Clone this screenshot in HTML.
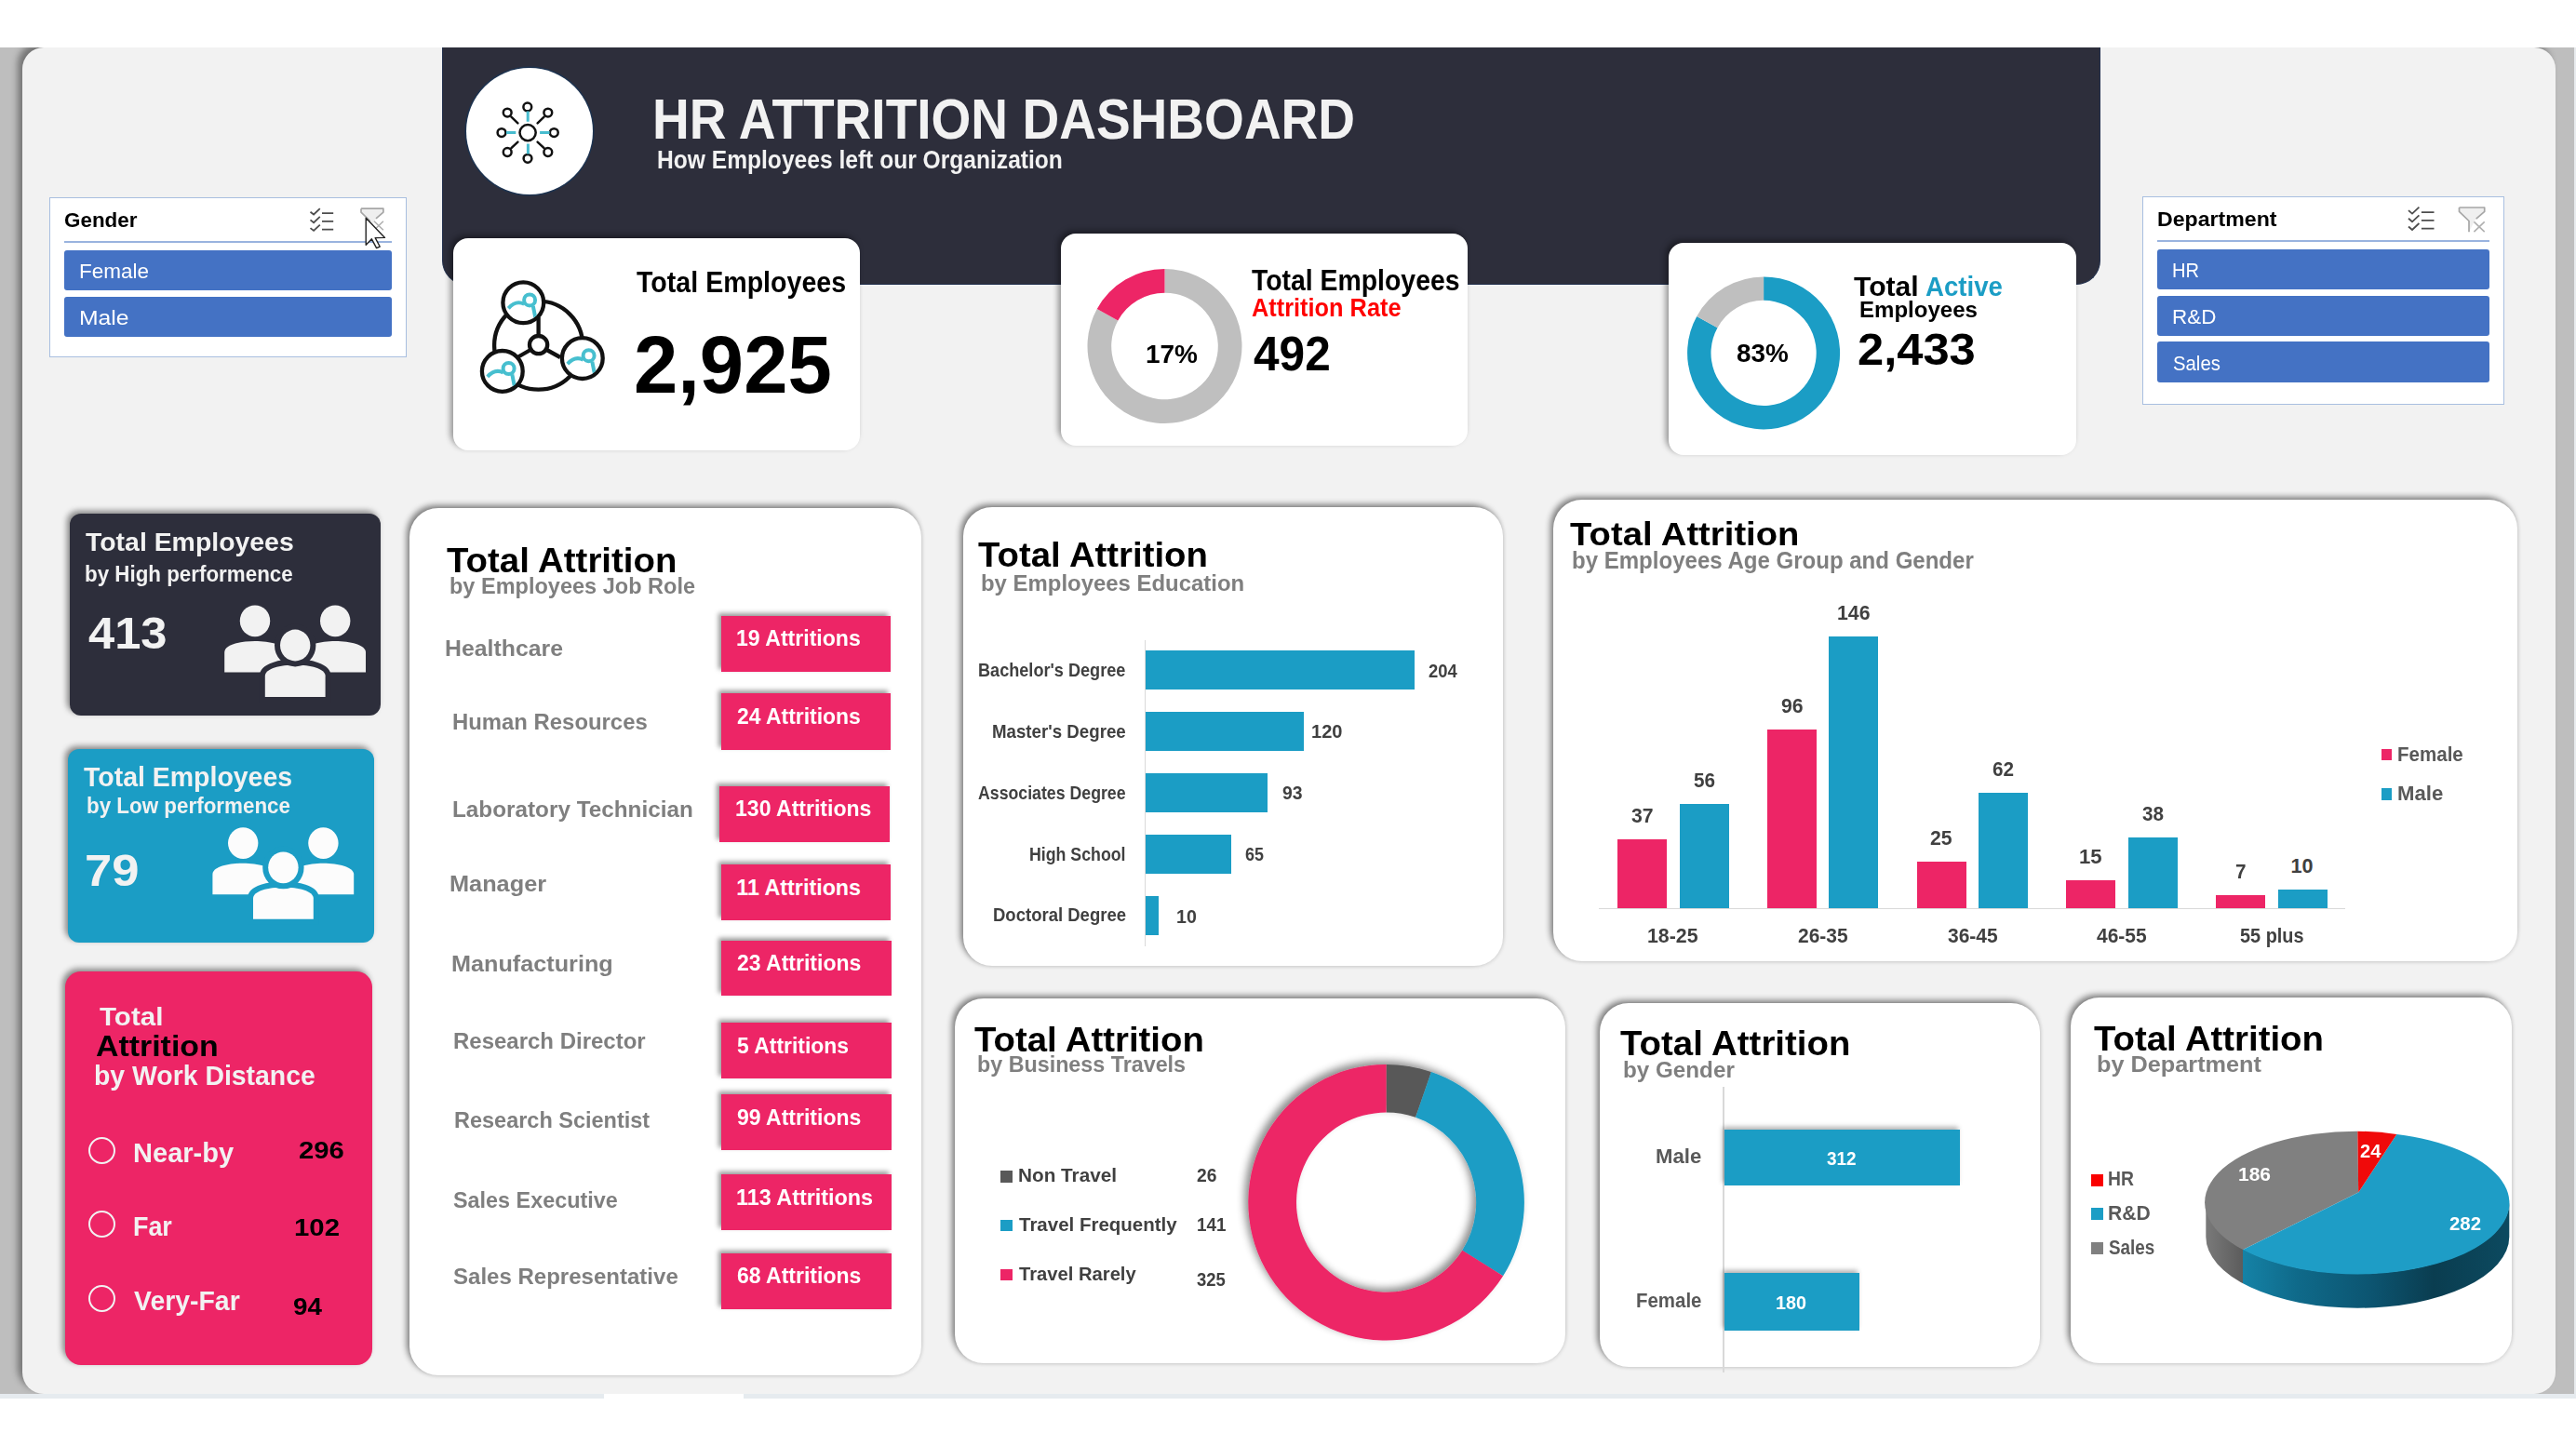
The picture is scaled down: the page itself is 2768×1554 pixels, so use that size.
<!DOCTYPE html><html><head><meta charset="utf-8"><style>
*{margin:0;padding:0}
html,body{width:2768px;height:1554px;overflow:hidden;background:#fff;position:relative;font-family:"Liberation Sans",sans-serif}
.t{position:absolute;white-space:nowrap;line-height:1;transform-origin:0 0}
</style></head><body>
<div style="position:absolute;left:0;top:51px;width:2768px;height:1446.5px;overflow:hidden;background:#bebebe"><div style="position:absolute;left:2766px;top:0;width:2px;height:100%;background:#e8ebee"></div><div style="position:absolute;left:24px;top:0;width:2722.2px;height:1446.5px;background:#f2f2f2;border-radius:23px;box-shadow:-5px -5px 7px rgba(0,0,0,0.38)"></div></div>
<div style="position:absolute;left:0.0px;top:1497.5px;width:648.5px;height:5.2px;background:#e6ebef;"></div>
<div style="position:absolute;left:798.7px;top:1497.5px;width:1969.3px;height:5.2px;background:#e6ebef;"></div>
<div style="position:absolute;left:474.5px;top:51.0px;width:1780.5px;height:254.0px;background:#2d2e3b;border-radius:0 0 26px 26px;border:1px solid #22304d;border-top:none;"></div>
<div style="position:absolute;left:501px;top:73px;width:136px;height:136px;border-radius:50%;background:#fff;box-shadow:0 0 0 1.5px #1d3350;"></div>
<div class="t" style="left:701.2px;top:98.0px;font-size:60.43px;font-weight:bold;color:#f2f2f2;transform:scaleX(0.9108);">HR ATTRITION DASHBOARD</div>
<div class="t" style="left:705.9px;top:158.0px;font-size:28.06px;font-weight:bold;color:#f2f2f2;transform:scaleX(0.8768);">How Employees left our Organization</div>
<div style="position:absolute;left:53.0px;top:212.0px;width:383.5px;height:172.0px;background:#fff;border:1.5px solid #a9bfe0;box-sizing:border-box;"></div>
<div class="t" style="left:69.2px;top:226.1px;font-size:22.3px;font-weight:bold;color:#000;transform:scaleX(1.0053);">Gender</div>
<div style="position:absolute;left:69.0px;top:259.4px;width:351.5px;height:1.4px;background:#9ab3df;"></div>
<div style="position:absolute;left:69.0px;top:269.0px;width:351.5px;height:43.0px;background:#4472c4;border-radius:3px;"></div>
<div class="t" style="left:84.9px;top:281.1px;font-size:21.15px;font-weight:normal;color:#fff;transform:scaleX(1.0650);">Female</div>
<div style="position:absolute;left:69.0px;top:318.6px;width:351.5px;height:43.4px;background:#4472c4;border-radius:3px;"></div>
<div class="t" style="left:84.8px;top:330.7px;font-size:21.15px;font-weight:normal;color:#fff;transform:scaleX(1.1687);">Male</div>
<div style="position:absolute;left:2301.6px;top:211.0px;width:389.4px;height:224.0px;background:#fff;border:1.5px solid #a9bfe0;box-sizing:border-box;"></div>
<div class="t" style="left:2317.5px;top:225.1px;font-size:22.3px;font-weight:bold;color:#000;transform:scaleX(1.0367);">Department</div>
<div style="position:absolute;left:2317.6px;top:258.4px;width:357.4px;height:1.4px;background:#9ab3df;"></div>
<div style="position:absolute;left:2317.6px;top:268.0px;width:357.4px;height:43.0px;background:#4472c4;border-radius:3px;"></div>
<div class="t" style="left:2333.7px;top:280.1px;font-size:21.15px;font-weight:normal;color:#fff;transform:scaleX(0.9499);">HR</div>
<div style="position:absolute;left:2317.6px;top:317.5px;width:357.4px;height:43.1px;background:#4472c4;border-radius:3px;"></div>
<div class="t" style="left:2333.5px;top:329.6px;font-size:21.15px;font-weight:normal;color:#fff;transform:scaleX(1.0607);">R&D</div>
<div style="position:absolute;left:2317.6px;top:367.4px;width:357.4px;height:43.3px;background:#4472c4;border-radius:3px;"></div>
<div class="t" style="left:2334.6px;top:379.5px;font-size:21.15px;font-weight:normal;color:#fff;transform:scaleX(0.9615);">Sales</div>
<div style="position:absolute;left:486.7px;top:256.0px;width:437.3px;height:228.3px;background:#fff;border-radius:16px;box-shadow:-3px -3px 6px rgba(0,0,0,0.4);"></div>
<div class="t" style="left:684.0px;top:288.2px;font-size:31.65px;font-weight:bold;color:#000;transform:scaleX(0.9038);">Total Employees</div>
<div class="t" style="left:681.1px;top:348.7px;font-size:87.77px;font-weight:bold;color:#000;transform:scaleX(0.9683);">2,925</div>
<div style="position:absolute;left:1139.6px;top:251.0px;width:437.9px;height:228.2px;background:#fff;border-radius:16px;box-shadow:-3px -3px 6px rgba(0,0,0,0.4);"></div>
<div class="t" style="left:1344.6px;top:286.8px;font-size:30.94px;font-weight:bold;color:#000;transform:scaleX(0.9177);">Total Employees</div>
<div class="t" style="left:1344.6px;top:317.7px;font-size:26.76px;font-weight:bold;color:#ff0000;transform:scaleX(0.9476);">Attrition Rate</div>
<div class="t" style="left:1347.0px;top:354.8px;font-size:51.8px;font-weight:bold;color:#000;transform:scaleX(0.9573);">492</div>
<svg style="position:absolute;left:0;top:0;overflow:visible" width="2768" height="1554" ><path d="M1251.50,289.00 A83,83 0 1 1 1178.77,332.01 L1201.29,344.40 A57.3,57.3 0 1 0 1251.50,314.70 Z" fill="#bfbfbf" /><path d="M1178.77,332.01 A83,83 0 0 1 1251.50,289.00 L1251.50,314.70 A57.3,57.3 0 0 0 1201.29,344.40 Z" fill="#ed2566" /></svg>
<div class="t" style="left:1231.0px;top:366.4px;font-size:28.35px;font-weight:bold;color:#000;transform:scaleX(0.9869);">17%</div>
<div style="position:absolute;left:1792.7px;top:260.7px;width:437.9px;height:228.8px;background:#fff;border-radius:16px;box-shadow:-3px -3px 6px rgba(0,0,0,0.4);"></div>
<div class="t" style="left:0;top:0;"></div>
<div class="t" style="left:1992.0px;top:294.1px;font-size:28.78px;font-weight:bold;color:#000;transform:scaleX(1.0467);">Total</div>
<div class="t" style="left:2068.9px;top:294.1px;font-size:28.78px;font-weight:bold;color:#1b9dc5;transform:scaleX(0.9601);">Active</div>
<div class="t" style="left:1998.0px;top:321.9px;font-size:23.45px;font-weight:bold;color:#000;transform:scaleX(1.0251);">Employees</div>
<div class="t" style="left:1995.6px;top:350.8px;font-size:48.2px;font-weight:bold;color:#000;transform:scaleX(1.0515);">2,433</div>
<svg style="position:absolute;left:0;top:0;overflow:visible" width="2768" height="1554" ><path d="M1895.10,297.40 A82,82 0 1 1 1823.24,339.90 L1845.50,352.13 A56.6,56.6 0 1 0 1895.10,322.80 Z" fill="#1b9dc5" /><path d="M1823.24,339.90 A82,82 0 0 1 1895.10,297.40 L1895.10,322.80 A56.6,56.6 0 0 0 1845.50,352.13 Z" fill="#bfbfbf" /></svg>
<div class="t" style="left:1866.4px;top:366.0px;font-size:27.77px;font-weight:bold;color:#000;transform:scaleX(1.0039);">83%</div>
<div style="position:absolute;left:75.2px;top:552.3px;width:333.6px;height:216.3px;background:#2d2e3b;border-radius:12px;box-shadow:-3px -3px 6px rgba(0,0,0,0.45);"></div>
<div class="t" style="left:91.7px;top:568.1px;font-size:28.49px;font-weight:bold;color:#f2f2f2;transform:scaleX(0.9977);">Total Employees</div>
<div class="t" style="left:90.7px;top:605.7px;font-size:23.02px;font-weight:bold;color:#f2f2f2;transform:scaleX(0.9717);">by High performence</div>
<div class="t" style="left:95.3px;top:655.6px;font-size:48.92px;font-weight:bold;color:#f2f2f2;transform:scaleX(1.0361);">413</div>
<div style="position:absolute;left:73.3px;top:805.3px;width:328.9px;height:207.9px;background:#1b9dc5;border-radius:12px;box-shadow:-3px -3px 6px rgba(0,0,0,0.45);"></div>
<div class="t" style="left:89.8px;top:821.0px;font-size:29.06px;font-weight:bold;color:#f2f2f2;transform:scaleX(0.9801);">Total Employees</div>
<div class="t" style="left:92.5px;top:854.7px;font-size:23.02px;font-weight:bold;color:#f2f2f2;transform:scaleX(0.9729);">by Low performence</div>
<div class="t" style="left:91.4px;top:911.3px;font-size:48.92px;font-weight:bold;color:#f2f2f2;transform:scaleX(1.0742);">79</div>
<div style="position:absolute;left:69.5px;top:1044.0px;width:330.5px;height:423.0px;background:#ed2566;border-radius:17px;box-shadow:-3px -3px 6px rgba(0,0,0,0.45);"></div>
<div class="t" style="left:107.0px;top:1078.6px;font-size:27.63px;font-weight:bold;color:#f2f2f2;transform:scaleX(1.0697);">Total</div>
<div class="t" style="left:103.4px;top:1109.4px;font-size:31.94px;font-weight:bold;color:#000;transform:scaleX(1.0607);">Attrition</div>
<div class="t" style="left:100.6px;top:1141.0px;font-size:29.5px;font-weight:bold;color:#f2f2f2;transform:scaleX(0.9625);">by Work Distance</div>
<div style="position:absolute;left:95.2px;top:1221.5px;width:29px;height:29px;border:2.2px solid #f2f2f2;border-radius:50%;box-sizing:border-box"></div>
<div class="t" style="left:143.0px;top:1224.6px;font-size:28.78px;font-weight:bold;color:#f2f2f2;transform:scaleX(1.0102);">Near-by</div>
<div class="t" style="left:321.4px;top:1222.9px;font-size:26.62px;font-weight:bold;color:#000;transform:scaleX(1.1010);">296</div>
<div style="position:absolute;left:95.2px;top:1301.1px;width:29px;height:29px;border:2.2px solid #f2f2f2;border-radius:50%;box-sizing:border-box"></div>
<div class="t" style="left:143.1px;top:1304.2px;font-size:28.78px;font-weight:bold;color:#f2f2f2;transform:scaleX(0.9341);">Far</div>
<div class="t" style="left:315.9px;top:1306.0px;font-size:26.62px;font-weight:bold;color:#000;transform:scaleX(1.1033);">102</div>
<div style="position:absolute;left:95.2px;top:1380.5px;width:29px;height:29px;border:2.2px solid #f2f2f2;border-radius:50%;box-sizing:border-box"></div>
<div class="t" style="left:144.0px;top:1383.6px;font-size:28.78px;font-weight:bold;color:#f2f2f2;transform:scaleX(0.9875);">Very-Far</div>
<div class="t" style="left:314.8px;top:1391.0px;font-size:26.62px;font-weight:bold;color:#000;transform:scaleX(1.0470);">94</div>
<div style="position:absolute;left:440.4px;top:546.2px;width:550.1px;height:931.8px;background:#fff;border-radius:31px;box-shadow:-3px -3px 6px rgba(0,0,0,0.48),1px 1px 4px rgba(0,0,0,0.08);"></div>
<div class="t" style="left:480.4px;top:584.3px;font-size:37.41px;font-weight:bold;color:#000;transform:scaleX(1.0264);">Total Attrition</div>
<div class="t" style="left:482.6px;top:619.4px;font-size:23.02px;font-weight:bold;color:#7f7f7f;transform:scaleX(1.0219);">by Employees Job Role</div>
<div class="t" style="left:477.7px;top:684.5px;font-size:24.75px;font-weight:bold;color:#7f7f7f;transform:scaleX(1.0032);">Healthcare</div>
<div style="position:absolute;left:775.0px;top:661.6px;width:182.4px;height:60.1px;background:#ed2566;box-shadow:-3px -3px 5px rgba(0,0,0,0.4);"></div>
<div class="t" style="left:791.3px;top:675.4px;font-size:23.31px;font-weight:bold;color:#fff;transform:scaleX(0.9906);">19 Attritions</div>
<div class="t" style="left:485.9px;top:764.0px;font-size:24.75px;font-weight:bold;color:#7f7f7f;transform:scaleX(0.9649);">Human Resources</div>
<div style="position:absolute;left:775.0px;top:745.0px;width:182.4px;height:60.6px;background:#ed2566;box-shadow:-3px -3px 5px rgba(0,0,0,0.4);"></div>
<div class="t" style="left:792.3px;top:758.9px;font-size:23.31px;font-weight:bold;color:#fff;transform:scaleX(0.9833);">24 Attritions</div>
<div class="t" style="left:485.9px;top:858.3px;font-size:24.75px;font-weight:bold;color:#7f7f7f;transform:scaleX(0.9817);">Laboratory Technician</div>
<div style="position:absolute;left:772.8px;top:844.6px;width:183.0px;height:60.1px;background:#ed2566;box-shadow:-3px -3px 5px rgba(0,0,0,0.4);"></div>
<div class="t" style="left:789.7px;top:858.0px;font-size:23.31px;font-weight:bold;color:#fff;transform:scaleX(0.9890);">130 Attritions</div>
<div class="t" style="left:482.6px;top:938.0px;font-size:24.75px;font-weight:bold;color:#7f7f7f;transform:scaleX(1.0223);">Manager</div>
<div style="position:absolute;left:775.0px;top:929.0px;width:182.4px;height:60.2px;background:#ed2566;box-shadow:-3px -3px 5px rgba(0,0,0,0.4);"></div>
<div class="t" style="left:791.3px;top:942.5px;font-size:23.31px;font-weight:bold;color:#fff;">11 Attritions</div>
<div class="t" style="left:484.7px;top:1023.7px;font-size:24.75px;font-weight:bold;color:#7f7f7f;transform:scaleX(1.0191);">Manufacturing</div>
<div style="position:absolute;left:775.2px;top:1010.6px;width:182.4px;height:59.4px;background:#ed2566;box-shadow:-3px -3px 5px rgba(0,0,0,0.4);"></div>
<div class="t" style="left:792.0px;top:1024.3px;font-size:23.31px;font-weight:bold;color:#fff;transform:scaleX(0.9870);">23 Attritions</div>
<div class="t" style="left:486.5px;top:1107.0px;font-size:24.75px;font-weight:bold;color:#7f7f7f;transform:scaleX(0.9690);">Research Director</div>
<div style="position:absolute;left:775.2px;top:1099.4px;width:182.4px;height:59.3px;background:#ed2566;box-shadow:-3px -3px 5px rgba(0,0,0,0.4);"></div>
<div class="t" style="left:792.0px;top:1113.1px;font-size:23.31px;font-weight:bold;color:#fff;transform:scaleX(0.9828);">5 Attritions</div>
<div class="t" style="left:488.4px;top:1192.0px;font-size:24.75px;font-weight:bold;color:#7f7f7f;transform:scaleX(0.9490);">Research Scientist</div>
<div style="position:absolute;left:775.2px;top:1176.0px;width:182.4px;height:60.0px;background:#ed2566;box-shadow:-3px -3px 5px rgba(0,0,0,0.4);"></div>
<div class="t" style="left:792.0px;top:1189.7px;font-size:23.31px;font-weight:bold;color:#fff;transform:scaleX(0.9870);">99 Attritions</div>
<div class="t" style="left:486.8px;top:1278.3px;font-size:24.75px;font-weight:bold;color:#7f7f7f;transform:scaleX(0.9444);">Sales Executive</div>
<div style="position:absolute;left:775.2px;top:1262.3px;width:182.4px;height:60.1px;background:#ed2566;box-shadow:-3px -3px 5px rgba(0,0,0,0.4);"></div>
<div class="t" style="left:791.0px;top:1276.0px;font-size:23.31px;font-weight:bold;color:#fff;transform:scaleX(1.0026);">113 Attritions</div>
<div class="t" style="left:486.8px;top:1360.0px;font-size:24.75px;font-weight:bold;color:#7f7f7f;transform:scaleX(0.9708);">Sales Representative</div>
<div style="position:absolute;left:775.2px;top:1346.8px;width:182.4px;height:60.1px;background:#ed2566;box-shadow:-3px -3px 5px rgba(0,0,0,0.4);"></div>
<div class="t" style="left:792.0px;top:1359.5px;font-size:23.31px;font-weight:bold;color:#fff;transform:scaleX(0.9870);">68 Attritions</div>
<div style="position:absolute;left:1035.0px;top:545.4px;width:579.7px;height:492.2px;background:#fff;border-radius:31px;box-shadow:-3px -3px 6px rgba(0,0,0,0.48),1px 1px 4px rgba(0,0,0,0.08);"></div>
<div class="t" style="left:1051.0px;top:579.4px;font-size:36.83px;font-weight:bold;color:#000;transform:scaleX(1.0403);">Total Attrition</div>
<div class="t" style="left:1053.7px;top:614.5px;font-size:24.46px;font-weight:bold;color:#7f7f7f;transform:scaleX(0.9784);">by Employees Education</div>
<div style="position:absolute;left:1229.5px;top:687.6px;width:1.2px;height:329.8px;background:#d9d9d9;"></div>
<div style="position:absolute;left:1230.5px;top:699.3px;width:289.4px;height:42.2px;background:#1b9dc5;"></div>
<div class="t" style="left:1051.2px;top:709.0px;font-size:21.01px;font-weight:bold;color:#404040;transform:scaleX(0.8626);">Bachelor's Degree</div>
<div class="t" style="left:1535.0px;top:710.1px;font-size:21.01px;font-weight:bold;color:#404040;transform:scaleX(0.8767);">204</div>
<div style="position:absolute;left:1230.5px;top:765.3px;width:170.2px;height:41.4px;background:#1b9dc5;"></div>
<div class="t" style="left:1065.9px;top:775.0px;font-size:21.01px;font-weight:bold;color:#404040;transform:scaleX(0.8903);">Master's Degree</div>
<div class="t" style="left:1408.5px;top:775.0px;font-size:21.01px;font-weight:bold;color:#404040;transform:scaleX(0.9563);">120</div>
<div style="position:absolute;left:1230.5px;top:830.5px;width:131.9px;height:42.5px;background:#1b9dc5;"></div>
<div class="t" style="left:1051.0px;top:840.9px;font-size:21.01px;font-weight:bold;color:#404040;transform:scaleX(0.8438);">Associates Degree</div>
<div class="t" style="left:1377.6px;top:841.2px;font-size:21.01px;font-weight:bold;color:#404040;transform:scaleX(0.9215);">93</div>
<div style="position:absolute;left:1230.5px;top:897.2px;width:92.2px;height:41.4px;background:#1b9dc5;"></div>
<div class="t" style="left:1106.2px;top:907.2px;font-size:21.01px;font-weight:bold;color:#404040;transform:scaleX(0.8454);">High School</div>
<div class="t" style="left:1338.0px;top:907.2px;font-size:21.01px;font-weight:bold;color:#404040;transform:scaleX(0.8531);">65</div>
<div style="position:absolute;left:1230.5px;top:963.2px;width:14.2px;height:42.1px;background:#1b9dc5;"></div>
<div class="t" style="left:1066.6px;top:972.2px;font-size:21.01px;font-weight:bold;color:#404040;transform:scaleX(0.8814);">Doctoral Degree</div>
<div class="t" style="left:1263.8px;top:974.0px;font-size:21.01px;font-weight:bold;color:#404040;transform:scaleX(0.9318);">10</div>
<div style="position:absolute;left:1668.7px;top:537.4px;width:1036.3px;height:495.6px;background:#fff;border-radius:31px;box-shadow:-3px -3px 6px rgba(0,0,0,0.48),1px 1px 4px rgba(0,0,0,0.08);"></div>
<div class="t" style="left:1686.6px;top:556.1px;font-size:35.97px;font-weight:bold;color:#000;transform:scaleX(1.0636);">Total Attrition</div>
<div class="t" style="left:1688.5px;top:590.1px;font-size:25.18px;font-weight:bold;color:#7f7f7f;transform:scaleX(0.9547);">by Employees Age Group and Gender</div>
<div style="position:absolute;left:1717.7px;top:975.5px;width:802.5px;height:1.5px;background:#d9d9d9;"></div>
<div style="position:absolute;left:1738.0px;top:902.0px;width:53.2px;height:74.0px;background:#ed2566;"></div>
<div style="position:absolute;left:1804.5px;top:864.0px;width:53.2px;height:112.0px;background:#1b9dc5;"></div>
<div class="t" style="left:1752.8px;top:866.2px;font-size:21.58px;font-weight:bold;color:#404040;transform:scaleX(0.9833);">37</div>
<div class="t" style="left:1819.6px;top:828.2px;font-size:21.58px;font-weight:bold;color:#404040;transform:scaleX(0.9583);">56</div>
<div class="t" style="left:1770.1px;top:995.2px;font-size:21.58px;font-weight:bold;color:#404040;transform:scaleX(0.9892);">18-25</div>
<div style="position:absolute;left:1898.8px;top:784.0px;width:53.2px;height:192.0px;background:#ed2566;"></div>
<div style="position:absolute;left:1965.2px;top:684.0px;width:53.2px;height:292.0px;background:#1b9dc5;"></div>
<div class="t" style="left:1913.5px;top:748.2px;font-size:21.58px;font-weight:bold;color:#404040;transform:scaleX(0.9833);">96</div>
<div class="t" style="left:1973.6px;top:648.2px;font-size:21.58px;font-weight:bold;color:#404040;transform:scaleX(0.9857);">146</div>
<div class="t" style="left:1931.9px;top:995.2px;font-size:21.58px;font-weight:bold;color:#404040;transform:scaleX(0.9712);">26-35</div>
<div style="position:absolute;left:2059.5px;top:926.0px;width:53.2px;height:50.0px;background:#ed2566;"></div>
<div style="position:absolute;left:2126.0px;top:852.0px;width:53.2px;height:124.0px;background:#1b9dc5;"></div>
<div class="t" style="left:2074.3px;top:890.2px;font-size:21.58px;font-weight:bold;color:#404040;transform:scaleX(0.9833);">25</div>
<div class="t" style="left:2141.1px;top:816.2px;font-size:21.58px;font-weight:bold;color:#404040;transform:scaleX(0.9583);">62</div>
<div class="t" style="left:2092.6px;top:995.2px;font-size:21.58px;font-weight:bold;color:#404040;transform:scaleX(0.9712);">36-45</div>
<div style="position:absolute;left:2220.2px;top:946.0px;width:53.2px;height:30.0px;background:#ed2566;"></div>
<div style="position:absolute;left:2286.8px;top:900.0px;width:53.2px;height:76.0px;background:#1b9dc5;"></div>
<div class="t" style="left:2234.0px;top:910.2px;font-size:21.58px;font-weight:bold;color:#404040;transform:scaleX(1.0261);">15</div>
<div class="t" style="left:2301.8px;top:864.2px;font-size:21.58px;font-weight:bold;color:#404040;transform:scaleX(0.9583);">38</div>
<div class="t" style="left:2253.3px;top:995.2px;font-size:21.58px;font-weight:bold;color:#404040;transform:scaleX(0.9712);">46-55</div>
<div style="position:absolute;left:2381.0px;top:962.0px;width:53.2px;height:14.0px;background:#ed2566;"></div>
<div style="position:absolute;left:2447.5px;top:956.0px;width:53.2px;height:20.0px;background:#1b9dc5;"></div>
<div class="t" style="left:2401.8px;top:926.2px;font-size:21.58px;font-weight:bold;color:#404040;transform:scaleX(0.9583);">7</div>
<div class="t" style="left:2461.6px;top:920.2px;font-size:21.58px;font-weight:bold;color:#404040;">10</div>
<div class="t" style="left:2406.7px;top:995.2px;font-size:21.58px;font-weight:bold;color:#404040;transform:scaleX(0.9213);">55 plus</div>
<div style="position:absolute;left:2558.8px;top:804.5px;width:11.7px;height:12.5px;background:#ed2566;"></div>
<div class="t" style="left:2576.0px;top:799.5px;font-size:21.58px;font-weight:bold;color:#595959;transform:scaleX(0.9514);">Female</div>
<div style="position:absolute;left:2558.8px;top:847.3px;width:11.7px;height:12.5px;background:#1b9dc5;"></div>
<div class="t" style="left:2576.0px;top:841.9px;font-size:21.58px;font-weight:bold;color:#595959;transform:scaleX(1.0262);">Male</div>
<div style="position:absolute;left:1026.2px;top:1073.3px;width:655.4px;height:392.2px;background:#fff;border-radius:31px;box-shadow:-3px -3px 6px rgba(0,0,0,0.48),1px 1px 4px rgba(0,0,0,0.08);"></div>
<div class="t" style="left:1046.7px;top:1098.9px;font-size:37.12px;font-weight:bold;color:#000;transform:scaleX(1.0322);">Total Attrition</div>
<div class="t" style="left:1049.5px;top:1132.0px;font-size:24.46px;font-weight:bold;color:#7f7f7f;transform:scaleX(0.9527);">by Business Travels</div>
<div style="position:absolute;left:1074.7px;top:1258.0px;width:13.1px;height:12.5px;background:#595959;"></div>
<div class="t" style="left:1093.7px;top:1252.2px;font-size:21.01px;font-weight:bold;color:#404040;transform:scaleX(0.9874);">Non Travel</div>
<div class="t" style="left:1286.4px;top:1251.6px;font-size:21.01px;font-weight:bold;color:#404040;transform:scaleX(0.9171);">26</div>
<div style="position:absolute;left:1074.7px;top:1310.8px;width:13.1px;height:12.5px;background:#1b9dc5;"></div>
<div class="t" style="left:1094.7px;top:1305.0px;font-size:21.01px;font-weight:bold;color:#404040;transform:scaleX(0.9752);">Travel Frequently</div>
<div class="t" style="left:1285.5px;top:1304.5px;font-size:21.01px;font-weight:bold;color:#404040;transform:scaleX(0.8964);">141</div>
<div style="position:absolute;left:1074.7px;top:1363.7px;width:13.1px;height:12.5px;background:#ed2566;"></div>
<div class="t" style="left:1094.7px;top:1357.9px;font-size:21.01px;font-weight:bold;color:#404040;transform:scaleX(0.9613);">Travel Rarely</div>
<div class="t" style="left:1286.4px;top:1363.7px;font-size:21.01px;font-weight:bold;color:#404040;transform:scaleX(0.8796);">325</div>
<svg style="position:absolute;left:0;top:0;overflow:visible" width="2768" height="1554" ><defs><filter id="dsh" x="-20%" y="-20%" width="140%" height="140%"><feDropShadow dx="-4" dy="-4" stdDeviation="4" flood-color="#000" flood-opacity="0.45"/></filter></defs><g filter="url(#dsh)"><path d="M1489.60,1143.90 A148.3,148.3 0 0 1 1537.93,1152.00 L1521.08,1200.87 A96.6,96.6 0 0 0 1489.60,1195.60 Z" fill="#595959" /><path d="M1537.93,1152.00 A148.3,148.3 0 0 1 1615.09,1371.23 L1571.34,1343.68 A96.6,96.6 0 0 0 1521.08,1200.87 Z" fill="#1b9dc5" /><path d="M1615.09,1371.23 A148.3,148.3 0 1 1 1489.60,1143.90 L1489.60,1195.60 A96.6,96.6 0 1 0 1571.34,1343.68 Z" fill="#ed2566" /></g></svg>
<div style="position:absolute;left:1718.7px;top:1078.0px;width:473.6px;height:390.5px;background:#fff;border-radius:31px;box-shadow:-3px -3px 6px rgba(0,0,0,0.48),1px 1px 4px rgba(0,0,0,0.08);"></div>
<div class="t" style="left:1740.5px;top:1103.5px;font-size:36.69px;font-weight:bold;color:#000;transform:scaleX(1.0469);">Total Attrition</div>
<div class="t" style="left:1744.0px;top:1138.3px;font-size:24.46px;font-weight:bold;color:#7f7f7f;transform:scaleX(0.9907);">by Gender</div>
<div style="position:absolute;left:1851.4px;top:1168.0px;width:1.2px;height:307.0px;background:#d9d9d9;"></div>
<div style="position:absolute;left:1852.5px;top:1214.3px;width:253.5px;height:59.7px;background:#1b9dc5;box-shadow:-2px -3px 5px rgba(0,0,0,0.3);"></div>
<div style="position:absolute;left:1852.5px;top:1368.0px;width:145.5px;height:61.6px;background:#1b9dc5;box-shadow:-2px -3px 5px rgba(0,0,0,0.3);"></div>
<div class="t" style="left:1963.0px;top:1233.8px;font-size:21.01px;font-weight:bold;color:#fff;transform:scaleX(0.9023);">312</div>
<div class="t" style="left:1908.1px;top:1388.5px;font-size:21.01px;font-weight:bold;color:#fff;transform:scaleX(0.9413);">180</div>
<div class="t" style="left:1779.3px;top:1232.4px;font-size:21.58px;font-weight:bold;color:#595959;transform:scaleX(1.0262);">Male</div>
<div class="t" style="left:1758.1px;top:1387.1px;font-size:21.58px;font-weight:bold;color:#595959;transform:scaleX(0.9473);">Female</div>
<div style="position:absolute;left:2225.0px;top:1072.4px;width:474.2px;height:392.4px;background:#fff;border-radius:31px;box-shadow:-3px -3px 6px rgba(0,0,0,0.48),1px 1px 4px rgba(0,0,0,0.08);"></div>
<div class="t" style="left:2249.8px;top:1097.9px;font-size:37.27px;font-weight:bold;color:#000;transform:scaleX(1.0283);">Total Attrition</div>
<div class="t" style="left:2252.6px;top:1132.0px;font-size:24.46px;font-weight:bold;color:#7f7f7f;transform:scaleX(1.0337);">by Department</div>
<div style="position:absolute;left:2246.7px;top:1261.6px;width:13.7px;height:13.2px;background:#fa0000;"></div>
<div class="t" style="left:2265.1px;top:1256.4px;font-size:21.58px;font-weight:bold;color:#595959;transform:scaleX(0.8959);">HR</div>
<div style="position:absolute;left:2246.7px;top:1298.0px;width:13.7px;height:13.2px;background:#1b9dc5;"></div>
<div class="t" style="left:2265.0px;top:1292.8px;font-size:21.58px;font-weight:bold;color:#595959;transform:scaleX(0.9786);">R&amp;D</div>
<div style="position:absolute;left:2246.7px;top:1334.8px;width:13.7px;height:13.2px;background:#808080;"></div>
<div class="t" style="left:2266.0px;top:1329.6px;font-size:21.58px;font-weight:bold;color:#595959;transform:scaleX(0.8725);">Sales</div>
<svg style="position:absolute;left:0;top:0;overflow:visible" width="2768" height="1554" ><defs><linearGradient id="sideg" gradientUnits="userSpaceOnUse" x1="2370" y1="0" x2="2697" y2="0"><stop offset="0" stop-color="#7a7a7a"/><stop offset="0.122" stop-color="#5c5c5c"/><stop offset="0.123" stop-color="#1582a6"/><stop offset="0.3" stop-color="#0f6a8a"/><stop offset="0.55" stop-color="#0c5470"/><stop offset="0.75" stop-color="#0a3d50"/><stop offset="1" stop-color="#0c4a60"/></linearGradient></defs><path d="M2370.3,1292.2 A163,76.5 0 0 0 2696.3,1292.2 L2696.3,1329.2 A163,76.5 0 0 1 2370.3,1329.2 Z" fill="url(#sideg)"/><path d="M2534.2,1281.5 L2533.3,1215.7 A163,76.5 0 0 0 2410.2,1343.0 Z" fill="#808080"/><path d="M2534.2,1281.5 L2575.3,1219.0 A163,76.5 0 1 1 2410.2,1343.0 Z" fill="#1e9dc6"/><path d="M2534.2,1281.5 L2533.3,1215.7 A163,76.5 0 0 1 2575.3,1219.0 Z" fill="#f00a0a"/></svg>
<div class="t" style="left:2535.8px;top:1226.6px;font-size:20.72px;font-weight:bold;color:#fff;transform:scaleX(0.9693);">24</div>
<div class="t" style="left:2404.7px;top:1251.7px;font-size:20.72px;font-weight:bold;color:#fff;transform:scaleX(1.0107);">186</div>
<div class="t" style="left:2632.4px;top:1305.0px;font-size:20.72px;font-weight:bold;color:#fff;transform:scaleX(0.9840);">282</div>
<svg style="position:absolute;left:0;top:0;overflow:visible" width="2768" height="1554" ><g fill="none" stroke="#111" stroke-width="2.5"><circle cx="567.1" cy="142.6" r="8.6"/><circle cx="566.8" cy="114.9" r="4.4"/><circle cx="567" cy="170.3" r="4.4"/><circle cx="539" cy="142.6" r="4.4"/><circle cx="595.3" cy="142.6" r="4.4"/><circle cx="545.2" cy="121.1" r="4.4"/><circle cx="588.8" cy="121.1" r="4.4"/><circle cx="545.2" cy="163.5" r="4.4"/><circle cx="588.8" cy="163.5" r="4.4"/><path d="M549.4,125.6 L556.4,132.3 M584.6,125.6 L577.6,132.3 M549.4,159.2 L556.4,152.6 M584.6,159.2 L577.6,152.6" stroke-linecap="round"/></g><path d="M567.2,119.6 V130.8 M567.4,154.4 V165.6 M544,142.6 H554.3 M580.1,142.6 H590.6" stroke="#47bccf" stroke-width="3"/></svg>
<svg style="position:absolute;left:0;top:0;overflow:visible" width="2768" height="1554" ><g fill="none" stroke="#111" stroke-width="4.3"><circle cx="578.6" cy="371.2" r="47.5"/><path d="M578.6,341 V361 M570,376 L556,384 M587.5,376 L602,384"/><circle cx="578.6" cy="370.6" r="9.6"/></g><circle cx="562.3" cy="325.3" r="21.9" fill="#fff" stroke="#111" stroke-width="4.3"/><clipPath id="tpc1"><circle cx="562.3" cy="325.3" r="19.8"/></clipPath><g stroke="#47bfcf" fill="none" stroke-width="4" clip-path="url(#tpc1)"><circle cx="569.0999999999999" cy="322.40000000000003" r="6"/><path d="M546.3,331.3 Q554.3,322.3 563.3,326.8"/><path d="M572.8,328.8 L575.3,341.3"/></g><circle cx="539.8" cy="398.9" r="21.9" fill="#fff" stroke="#111" stroke-width="4.3"/><clipPath id="tpc2"><circle cx="539.8" cy="398.9" r="19.8"/></clipPath><g stroke="#47bfcf" fill="none" stroke-width="4" clip-path="url(#tpc2)"><circle cx="546.5999999999999" cy="396.0" r="6"/><path d="M523.8,404.9 Q531.8,395.9 540.8,400.4"/><path d="M550.3,402.4 L552.8,414.9"/></g><circle cx="625.8" cy="385.1" r="21.9" fill="#fff" stroke="#111" stroke-width="4.3"/><clipPath id="tpc3"><circle cx="625.8" cy="385.1" r="19.8"/></clipPath><g stroke="#47bfcf" fill="none" stroke-width="4" clip-path="url(#tpc3)"><circle cx="632.5999999999999" cy="382.20000000000005" r="6"/><path d="M609.8,391.1 Q617.8,382.1 626.8,386.6"/><path d="M636.3,388.6 L638.8,401.1"/></g></svg>
<svg style="position:absolute;left:0;top:0;overflow:visible" width="2768" height="1554" ><g fill="#f2f2f2"><ellipse cx="274.0" cy="667.3" rx="16.2" ry="16.9"/><path d="M241.2,722.5 L241.2,700.9 C241.2,692.9 258.0,688.9 274.0,688.9 C290.0,688.9 306.8,692.9 306.8,700.9 L306.8,722.5 Z"/><ellipse cx="360.2" cy="667.3" rx="16.2" ry="16.9"/><path d="M327.4,722.5 L327.4,700.9 C327.4,692.9 344.2,688.9 360.2,688.9 C376.2,688.9 393.0,692.9 393.0,700.9 L393.0,722.5 Z"/><g stroke="#2d2e3b" stroke-width="12" paint-order="stroke"><path d="M284.8,748.9 L284.8,726.6 C284.8,718.6 301.2,714.6 317.2,714.6 C333.2,714.6 349.6,718.6 349.6,726.6 L349.6,748.9 Z"/><ellipse cx="317.2" cy="693.5" rx="16.2" ry="16.9"/></g></g></svg>
<svg style="position:absolute;left:0;top:0;overflow:visible" width="2768" height="1554" ><g fill="#fcfcfc"><ellipse cx="261.2" cy="906.1" rx="16.2" ry="16.9"/><path d="M228.4,961.3 L228.4,939.7 C228.4,931.7 245.2,927.7 261.2,927.7 C277.2,927.7 294.0,931.7 294.0,939.7 L294.0,961.3 Z"/><ellipse cx="347.4" cy="906.1" rx="16.2" ry="16.9"/><path d="M314.6,961.3 L314.6,939.7 C314.6,931.7 331.4,927.7 347.4,927.7 C363.4,927.7 380.2,931.7 380.2,939.7 L380.2,961.3 Z"/><g stroke="#1b9dc5" stroke-width="12" paint-order="stroke"><path d="M272.0,987.7 L272.0,965.4 C272.0,957.4 288.4,953.4 304.4,953.4 C320.4,953.4 336.8,957.4 336.8,965.4 L336.8,987.7 Z"/><ellipse cx="304.4" cy="932.3" rx="16.2" ry="16.9"/></g></g></svg>
<svg style="position:absolute;left:0;top:0;overflow:visible" width="2768" height="1554" ><path d="M2588.0,226.1 L2592.0,229.6 L2599.4,222.6 M2601.9,228.2 H2615.5 M2588.0,234.8 L2592.0,238.3 L2599.4,231.3 M2601.9,236.9 H2615.5 M2588.0,243.5 L2592.0,247.0 L2599.4,240.0 M2601.9,245.6 H2615.5 " fill="none" stroke="#4d4d4d" stroke-width="1.8"/><path d="M2642.5,223.0 H2669.7 V227.4 L2659.0,237.5 L2653.0,249.2 L2653.0,237.5 L2642.5,227.4 Z" fill="#efefef" stroke="none"/><path d="M2642.5,223.0 H2669.7 V227.4 L2660.7,235.2 M2642.5,223.0 V227.4 L2653.0,237.5 V249.2" fill="none" stroke="#a6a6a6" stroke-width="1.7" stroke-linejoin="round"/><path d="M2658.4,238.3 L2669.7,249.2 M2669.7,238.3 L2658.4,249.2" stroke="#b0b0b0" stroke-width="1.6"/></svg>
<svg style="position:absolute;left:0;top:0;overflow:visible" width="2768" height="1554" ><path d="M333.5,227.7 L337.1,230.5 L343.8,224.2 M346.0,229.2 H358.2 M333.5,236.4 L337.1,239.2 L343.8,232.9 M346.0,237.9 H358.2 M333.5,245.1 L337.1,247.9 L343.8,241.6 M346.0,246.6 H358.2 " fill="none" stroke="#4d4d4d" stroke-width="1.8"/><path d="M388.0,224.2 H411.9 V228.1 L402.5,237.0 L397.2,247.3 L397.2,237.0 L388.0,228.1 Z" fill="#efefef" stroke="none"/><path d="M388.0,224.2 H411.9 V228.1 L404.0,234.9 M388.0,224.2 V228.1 L397.2,237.0 V247.3" fill="none" stroke="#a6a6a6" stroke-width="1.7" stroke-linejoin="round"/><path d="M402.0,237.7 L411.9,247.3 M411.9,237.7 L402.0,247.3" stroke="#b0b0b0" stroke-width="1.6"/></svg>
<svg style="position:absolute;left:0;top:0;overflow:visible" width="2768" height="1554" ><path d="M393.2,234.2 L393.2,263.3 L399.4,256.8 L404.6,266.6 L408.2,265 L403.2,255.6 L413.5,255.4 Z" fill="#fff" stroke="#222" stroke-width="1.4" stroke-linejoin="round"/></svg>
</body></html>
